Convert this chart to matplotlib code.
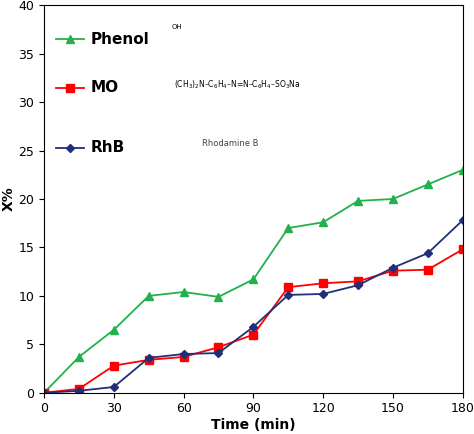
import matplotlib
matplotlib.use("Agg")
import matplotlib.pyplot as plt

TIME = [0, 15, 30, 45, 60, 75, 90, 105, 120, 135, 150, 165, 180]
PHENOL = [0, 3.7, 6.5, 10.0, 10.4, 9.9, 11.7, 17.0, 17.6, 19.8, 20.0, 21.5, 23.0]
MO = [0, 0.4, 2.8, 3.4, 3.7, 4.7, 6.0, 10.9, 11.3, 11.5, 12.6, 12.7, 14.8]
RHB = [0, 0.2, 0.6, 3.6, 4.0, 4.1, 6.8, 10.1, 10.2, 11.1, 12.9, 14.4, 17.8]

fig = plt.figure(figsize=(4.74, 4.34), dpi=100)
ax = fig.add_axes([0.093, 0.095, 0.883, 0.893])

ax.plot(TIME, PHENOL, color="#22b14c", marker="^", markersize=6, linewidth=1.3)
ax.plot(TIME, MO, color="#ff0000", marker="s", markersize=6, linewidth=1.3)
ax.plot(TIME, RHB, color="#1f2f7a", marker="D", markersize=4.5, linewidth=1.3)

ax.set_xlim(0, 180)
ax.set_ylim(0, 40)
ax.set_xticks(range(0, 181, 30))
ax.set_yticks(range(0, 41, 5))
ax.tick_params(labelsize=9, direction="out")
ax.set_xlabel("Time (min)", fontsize=10, fontweight="bold", labelpad=2)
ax.set_ylabel("X%", fontsize=10, fontweight="bold", labelpad=2)

# legend-style labels on the left
legend_items = [
    (36.5, "#22b14c", "^", 6, "Phenol"),
    (31.5, "#ff0000", "s", 6, "MO"),
    (25.3, "#1f2f7a", "D", 4.5, "RhB"),
]
for y, c, m, ms, label in legend_items:
    ax.plot([5, 17], [y, y], color=c, linewidth=1.3)
    ax.plot([11], [y], color=c, marker=m, markersize=ms)
    ax.text(20, y, label, fontsize=11, fontweight="bold", va="center")

# rough hints of the molecular structures
ax.text(57, 37.5, "OH", fontsize=5, ha="center")
ax.text(56, 31.5, "(CH$_3$)$_2$N–C$_6$H$_4$–N=N–C$_6$H$_4$–SO$_3$Na", fontsize=5.5)
ax.text(80, 25.5, "Rhodamine B", fontsize=6, ha="center", color="#444444")

fig.savefig("out.png", dpi=100)
